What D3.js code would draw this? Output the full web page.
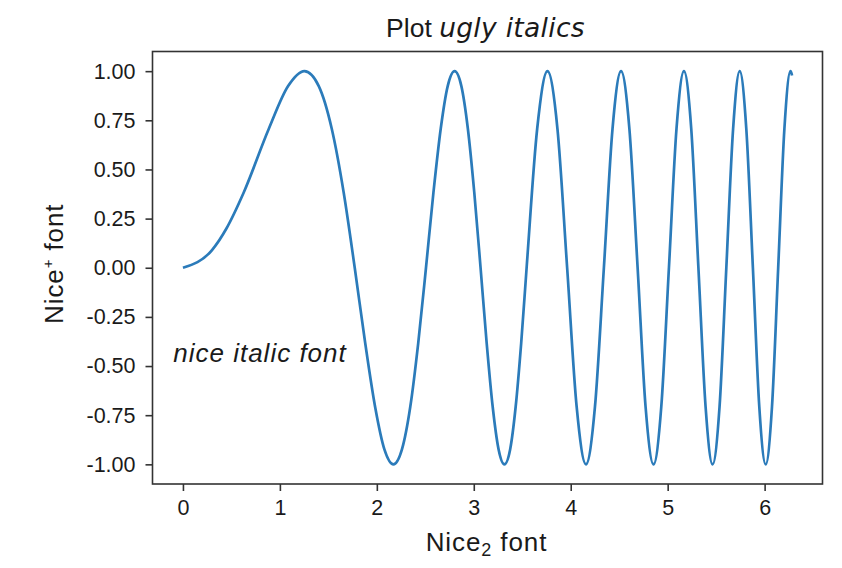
<!DOCTYPE html>
<html>
<head>
<meta charset="utf-8">
<script src="https://cdn.jsdelivr.net/npm/d3@7"></script>
<style>
  body { margin: 0; background: #fff; }
  svg { display: block; }
  .axis text { font-family: "Liberation Sans", Arial, sans-serif; font-size: 21.5px; fill: #1a1a1a; }
  .axis path, .axis line { stroke: #333; stroke-width: 1.6; }
</style>
</head>
<body>
<div id="chart"></div>
<script>
// curve points (x, y)
const xs = [0, 0.3, 0.45, 0.627, 0.886, 1.085, 1.253, 1.401, 1.535, 1.658, 1.772, 1.880, 1.982,
  2.078, 2.171, 2.259, 2.345, 2.427, 2.507, 2.584, 2.659, 2.731, 2.802, 2.872, 2.939,
  3.005, 3.070, 3.133, 3.195, 3.256, 3.316, 3.375, 3.432, 3.489, 3.545,
  3.654, 3.760, 3.863, 3.963,
  4.061, 4.157, 4.250, 4.342, 4.431, 4.519, 4.605, 4.690, 4.772, 4.854, 4.934, 5.013,
  5.091, 5.168, 5.243, 5.317, 5.391, 5.463, 5.535, 5.605, 5.675, 5.743, 5.811, 5.879,
  5.945, 6.011, 6.076, 6.140, 6.204, 6.267, 6.283];
const ys = [0, 0.09, 0.201, 0.383, 0.707, 0.924, 1, 0.924, 0.707, 0.383, 0, -0.383, -0.707,
  -0.924, -1, -0.924, -0.707, -0.383, 0, 0.383, 0.707, 0.924, 1, 0.924, 0.707,
  0.383, 0, -0.383, -0.707, -0.924, -1, -0.924, -0.707, -0.383, 0,
  0.707, 1, 0.707, 0,
  -0.707, -1, -0.707, 0, 0.707, 1, 0.707, 0, -0.707, -1, -0.707, 0,
  0.707, 1, 0.707, 0, -0.707, -1, -0.707, 0, 0.707, 1, 0.707, 0,
  -0.707, -1, -0.707, 0, 0.707, 1, 0.978];

const xTicks = [0, 1, 2, 3, 4, 5, 6];
const yTicks = [-1, -0.75, -0.5, -0.25, 0, 0.25, 0.5, 0.75, 1];

const width = 842, height = 568;
const margin = { left: 152.5, right: 19.5, top: 51.5, bottom: 84 };

const svg = d3.select("#chart").append("svg")
  .attr("width", width)
  .attr("height", height);

const xscale = d3.scaleLinear()
  .domain([-0.314, 6.597])
  .range([margin.left, width - margin.right]);

const yscale = d3.scaleLinear()
  .domain([-1.1, 1.1])
  .range([height - margin.bottom, margin.top]);

// curve
const linea = d3.line()
  .x(i => xscale(xs[i]))
  .y(i => yscale(ys[i]))
  .curve(d3.curveMonotoneX);

svg.append("path")
  .datum(d3.range(xs.length))
  .attr("fill", "none")
  .attr("stroke", "#2b7bba")
  .attr("stroke-width", 2.7)
  .attr("stroke-linejoin", "round")
  .attr("d", linea);

// axes
const xAxis = d3.axisBottom(xscale)
  .tickValues(xTicks)
  .tickSizeInner(7)
  .tickSizeOuter(0)
  .tickPadding(9)
  .tickFormat(d3.format("d"));

const yAxis = d3.axisLeft(yscale)
  .tickValues(yTicks)
  .tickSizeInner(7)
  .tickSizeOuter(0)
  .tickPadding(10)
  .tickFormat(d => d3.format(".2f")(d).replace("−", "-"));

svg.append("g")
  .attr("class", "axis")
  .attr("transform", `translate(0,${height - margin.bottom})`)
  .call(xAxis)
  .select(".domain").remove();

svg.append("g")
  .attr("class", "axis")
  .attr("transform", `translate(${margin.left},0)`)
  .call(yAxis)
  .select(".domain").remove();

// frame
svg.append("rect")
  .attr("x", margin.left)
  .attr("y", margin.top)
  .attr("width", width - margin.left - margin.right)
  .attr("height", height - margin.top - margin.bottom)
  .attr("fill", "none")
  .attr("stroke", "#333")
  .attr("stroke-width", 1.6);

const cx = (margin.left + width - margin.right) / 2;
const cy = (margin.top + height - margin.bottom) / 2;

// title
const title = svg.append("text")
  .attr("x", cx - 2)
  .attr("y", 37)
  .attr("text-anchor", "middle")
  .style("font-size", "26.5px")
  .style("fill", "#1a1a1a");
title.append("tspan")
  .style("font-family", "'Liberation Sans', Arial, sans-serif")
  .text("Plot ");
title.append("tspan")
  .style("font-family", "'DejaVu Sans', sans-serif")
  .style("font-style", "italic")
  .style("letter-spacing", "0.3px")
  .text("ugly italics");

// x label
const xl = svg.append("text")
  .attr("x", cx - 1)
  .attr("y", 551)
  .attr("text-anchor", "middle")
  .style("font-family", "'Liberation Sans', Arial, sans-serif")
  .style("font-size", "26px")
  .style("letter-spacing", "0.9px")
  .style("fill", "#1a1a1a");
xl.append("tspan").text("Nice");
xl.append("tspan").attr("dy", 5).style("font-size", "18px").text("2");
xl.append("tspan").attr("dy", -5).text(" font");

// y label
const yl = svg.append("text")
  .attr("transform", `translate(63,${cy - 4}) rotate(-90)`)
  .attr("text-anchor", "middle")
  .style("font-family", "'Liberation Sans', Arial, sans-serif")
  .style("font-size", "26px")
  .style("letter-spacing", "0.9px")
  .style("fill", "#1a1a1a");
yl.append("tspan").text("Nice");
yl.append("tspan").attr("dy", -10).style("font-size", "15px").text("+");
yl.append("tspan").attr("dy", 10).text(" font");

// annotation
svg.append("text")
  .attr("x", xscale(-0.1))
  .attr("y", yscale(-0.48))
  .style("font-family", "'Liberation Sans', Arial, sans-serif")
  .style("font-style", "italic")
  .style("font-size", "26px")
  .style("letter-spacing", "1px")
  .style("fill", "#1a1a1a")
  .text("nice italic font");
</script>
</body>
</html>
